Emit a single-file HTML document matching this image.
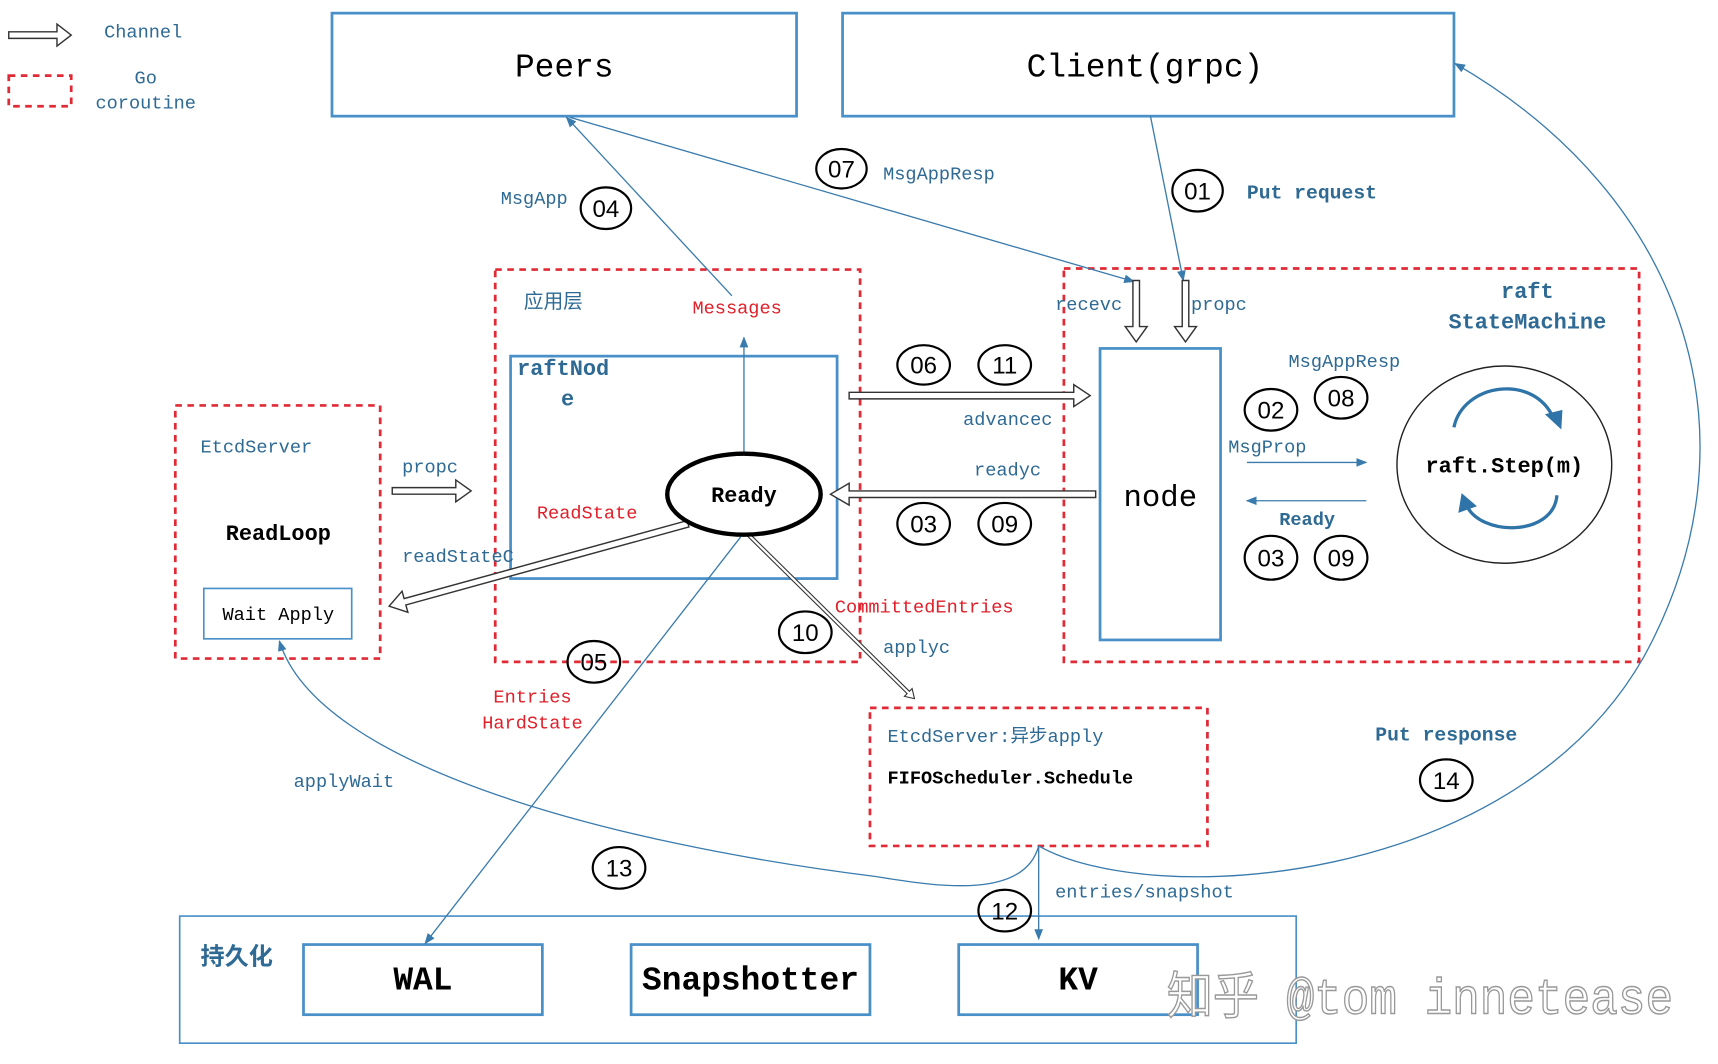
<!DOCTYPE html>
<html><head><meta charset="utf-8"><style>
html,body{margin:0;padding:0;background:#fff;}
svg{display:block;}
text{font-family:"Liberation Mono","Noto Sans CJK SC",monospace;}
.b{fill:#2e6a94;font-size:17px;}
.r{fill:#e0202a;font-size:17px;}
.k{fill:#000;}
.c{fill:none;stroke:#000;stroke-width:2;}
.ct{font-size:22px;text-anchor:middle;fill:#000;font-family:"Liberation Sans Narrow","Liberation Sans",sans-serif;}
.box{fill:none;stroke:#4a90c8;stroke-width:2.5;}
.rd{fill:none;stroke:#e02a36;stroke-width:2.5;stroke-dasharray:6,5;}
.ln{fill:none;stroke:#3a7bad;stroke-width:1.2;}
.da{fill:#fff;stroke:#333;stroke-width:1.3;}
</style></head><body>
<svg width="1718" height="1064" viewBox="0 0 1568 971" preserveAspectRatio="none" xmlns="http://www.w3.org/2000/svg">
<defs>
<marker id="ah" markerWidth="10" markerHeight="8" refX="9" refY="4" orient="auto" markerUnits="userSpaceOnUse"><path d="M0,0 L10,4 L0,8 Z" fill="#3a7bad"/></marker>
</defs>

<g transform="translate(8,32)"><path class="da" d="M0,-3 H44 V-10 L57,0 L44,10 V3 H0 Z"/></g>
<text class="b" x="95" y="34">Channel</text>
<rect class="rd" x="8" y="69" width="57" height="28"/>
<text class="b" x="133" y="76" text-anchor="middle">Go</text>
<text class="b" x="133" y="99" text-anchor="middle">coroutine</text>

<rect class="box" x="303" y="12" width="424" height="94"/>
<text x="515" y="70" font-size="30" text-anchor="middle" class="k">Peers</text>
<rect class="box" x="769" y="12" width="558" height="94"/>
<text x="1045" y="70" font-size="30" text-anchor="middle" class="k">Client(grpc)</text>

<rect class="rd" x="452" y="246" width="333" height="358"/>
<rect class="rd" x="971" y="245" width="525" height="359"/>
<rect class="rd" x="160" y="370" width="187" height="231"/>
<rect class="rd" x="794" y="646" width="308" height="126"/>

<rect class="box" x="466" y="325" width="298" height="203"/>
<rect class="box" x="1004" y="318" width="110" height="266"/>
<rect x="186" y="537" width="135" height="46" fill="none" stroke="#4a90c8" stroke-width="1.5"/>
<rect x="164" y="836" width="1019" height="116" fill="none" stroke="#4a90c8" stroke-width="1.5"/>
<rect class="box" x="277" y="862" width="218" height="64"/>
<rect class="box" x="576" y="862" width="218" height="64"/>
<rect class="box" x="875" y="862" width="218" height="64"/>
<text x="386" y="903" font-size="30" text-anchor="middle" class="k" font-weight="bold">WAL</text>
<text x="685" y="903" font-size="30" text-anchor="middle" class="k" font-weight="bold">Snapshotter</text>
<text x="984" y="903" font-size="30" text-anchor="middle" class="k" font-weight="bold">KV</text>
<text x="183" y="880" font-size="22" fill="#2e6a94" font-weight="bold">持久化</text>

<line class="ln" x1="668" y1="270" x2="517" y2="107" marker-end="url(#ah)"/>
<line class="ln" x1="520" y1="107" x2="1035" y2="257" marker-end="url(#ah)"/>
<line class="ln" x1="1050" y1="106" x2="1080" y2="256" marker-end="url(#ah)"/>
<line class="ln" x1="679" y1="413" x2="679" y2="308" marker-end="url(#ah)"/>
<line class="ln" x1="1138" y1="422" x2="1247" y2="422" stroke-width="1.6" marker-end="url(#ah)"/>
<line class="ln" x1="1247" y1="457" x2="1138" y2="457" stroke-width="1.6" marker-end="url(#ah)"/>
<line class="ln" x1="676" y1="490" x2="388" y2="861" marker-end="url(#ah)"/>
<line class="ln" x1="948" y1="772" x2="948" y2="857" marker-end="url(#ah)"/>
<path class="ln" d="M948,772 C1050,830 1380,810 1500,600 C1610,400 1540,180 1328,58" marker-end="url(#ah)"/>
<path class="ln" d="M948,772 C935,820 860,810 800,800 C560,770 290,700 255,585" marker-end="url(#ah)"/>

<g transform="translate(775,361)"><path class="da" d="M0,-3 H205 V-10 L220,0 L205,10 V3 H0 Z"/></g>
<g transform="translate(1000,451) rotate(180)"><path class="da" d="M0,-3 H225 V-10 L242,0 L225,10 V3 H0 Z"/></g>
<g transform="translate(358,448)"><path class="da" d="M0,-3 H58 V-10 L72,0 L58,10 V3 H0 Z"/></g>
<g transform="translate(628,478) rotate(164.6)"><path class="da" d="M0,-3 H268 V-10 L283,0 L268,10 V3 H0 Z"/></g>
<g transform="translate(1037,256) rotate(90)"><path class="da" d="M0,-3 H42 V-10 L56,0 L42,10 V3 H0 Z"/></g>
<g transform="translate(1082,256) rotate(90)"><path class="da" d="M0,-3 H42 V-10 L56,0 L42,10 V3 H0 Z"/></g>
<g transform="translate(683,488) rotate(44.6)"><path fill="#fff" stroke="#333" stroke-width="1" d="M0,-1.5 H205 V-5 L213,0 L205,5 V1.5 H0 Z"/></g>

<ellipse cx="679" cy="451" rx="70" ry="37" fill="#fff" stroke="#000" stroke-width="4"/>
<text x="679" y="458" font-size="20" text-anchor="middle" class="k" font-weight="bold">Ready</text>

<ellipse cx="1373" cy="424" rx="98" ry="90" fill="none" stroke="#222" stroke-width="1.3"/>
<text x="1373" y="431" font-size="20" text-anchor="middle" class="k" font-weight="bold">raft.Step(m)</text>
<path d="M1327,390 C1335,350 1400,340 1418,382" fill="none" stroke="#2f74a8" stroke-width="3"/>
<path d="M1410,378 L1425,392 L1426,374 Z" fill="#2f74a8"/>
<path d="M1421,452 C1418,490 1350,490 1338,460" fill="none" stroke="#2f74a8" stroke-width="3"/>
<path d="M1331,468 L1334,450 L1348,462 Z" fill="#2f74a8"/>

<text x="1059" y="462" font-size="28" text-anchor="middle" class="k">node</text>
<text x="472" y="342" font-size="20" fill="#2e6a94" font-weight="bold">raftNod</text>
<text x="512" y="370" font-size="20" fill="#2e6a94" font-weight="bold">e</text>
<text x="478" y="281" font-size="18" fill="#2e6a94">应用层</text>
<text class="r" x="632" y="286">Messages</text>
<text class="r" x="490" y="473">ReadState</text>
<text class="b" x="183" y="413">EtcdServer</text>
<text x="254" y="493" font-size="20" text-anchor="middle" class="k" font-weight="bold">ReadLoop</text>
<text x="254" y="566" font-size="17" text-anchor="middle" class="k">Wait Apply</text>
<text class="b" x="367" y="431">propc</text>
<text class="b" x="367" y="513">readStateC</text>
<text class="b" x="457" y="186">MsgApp</text>
<text class="b" x="806" y="164">MsgAppResp</text>
<text x="1138" y="181" font-size="18" fill="#2e6a94" font-weight="bold">Put request</text>
<text class="b" x="963" y="283">recevc</text>
<text class="b" x="1087" y="283">propc</text>
<text x="1394" y="272" font-size="20" text-anchor="middle" fill="#2e6a94" font-weight="bold">raft</text>
<text x="1394" y="300" font-size="20" text-anchor="middle" fill="#2e6a94" font-weight="bold">StateMachine</text>
<text class="b" x="1176" y="335">MsgAppResp</text>
<text class="b" x="1121" y="413">MsgProp</text>
<text x="1193" y="479" font-size="17" text-anchor="middle" fill="#2e6a94" font-weight="bold">Ready</text>
<text class="b" x="879" y="388">advancec</text>
<text class="b" x="889" y="434">readyc</text>
<text class="r" x="762" y="559">CommittedEntries</text>
<text class="b" x="806" y="596">applyc</text>
<text class="r" x="486" y="641" text-anchor="middle">Entries</text>
<text class="r" x="486" y="665" text-anchor="middle">HardState</text>
<text class="b" x="810" y="677">EtcdServer:异步apply</text>
<text x="810" y="715" font-size="17" class="k" font-weight="bold">FIFOScheduler.Schedule</text>
<text x="1320" y="676" font-size="18" text-anchor="middle" fill="#2e6a94" font-weight="bold">Put response</text>
<text class="b" x="268" y="718">applyWait</text>
<text class="b" x="963" y="819">entries/snapshot</text>

<g>
<ellipse class="c" cx="768" cy="154" rx="23" ry="18"/><text class="ct" x="768" y="162">07</text>
<ellipse class="c" cx="1093" cy="174" rx="23" ry="19"/><text class="ct" x="1093" y="182">01</text>
<ellipse class="c" cx="553" cy="190" rx="23" ry="19"/><text class="ct" x="553" y="198">04</text>
<ellipse class="c" cx="843" cy="333" rx="24" ry="18"/><text class="ct" x="843" y="341">06</text>
<ellipse class="c" cx="917" cy="333" rx="24" ry="18"/><text class="ct" x="917" y="341">11</text>
<ellipse class="c" cx="1160" cy="374" rx="24" ry="19"/><text class="ct" x="1160" y="382">02</text>
<ellipse class="c" cx="1224" cy="363" rx="24" ry="19"/><text class="ct" x="1224" y="371">08</text>
<ellipse class="c" cx="843" cy="478" rx="24" ry="19"/><text class="ct" x="843" y="486">03</text>
<ellipse class="c" cx="917" cy="478" rx="24" ry="19"/><text class="ct" x="917" y="486">09</text>
<ellipse class="c" cx="1160" cy="509" rx="24" ry="20"/><text class="ct" x="1160" y="517">03</text>
<ellipse class="c" cx="1224" cy="509" rx="24" ry="20"/><text class="ct" x="1224" y="517">09</text>
<ellipse class="c" cx="542" cy="604" rx="24" ry="19" fill="#fff"/><text class="ct" x="542" y="612">05</text>
<ellipse class="c" cx="735" cy="577" rx="24" ry="19"/><text class="ct" x="735" y="585">10</text>
<ellipse class="c" cx="565" cy="792" rx="24" ry="19"/><text class="ct" x="565" y="800">13</text>
<ellipse class="c" cx="917" cy="831" rx="24" ry="19"/><text class="ct" x="917" y="839">12</text>
<ellipse class="c" cx="1320" cy="712" rx="24" ry="19"/><text class="ct" x="1320" y="720">14</text>
</g>

<text x="1065" y="925" font-size="46" fill="#fff" stroke="#999" stroke-width="1.3" textLength="462" lengthAdjust="spacingAndGlyphs" font-family="'Liberation Sans','Noto Sans CJK SC',sans-serif">知乎 @tom innetease</text>
</svg>
</body></html>
